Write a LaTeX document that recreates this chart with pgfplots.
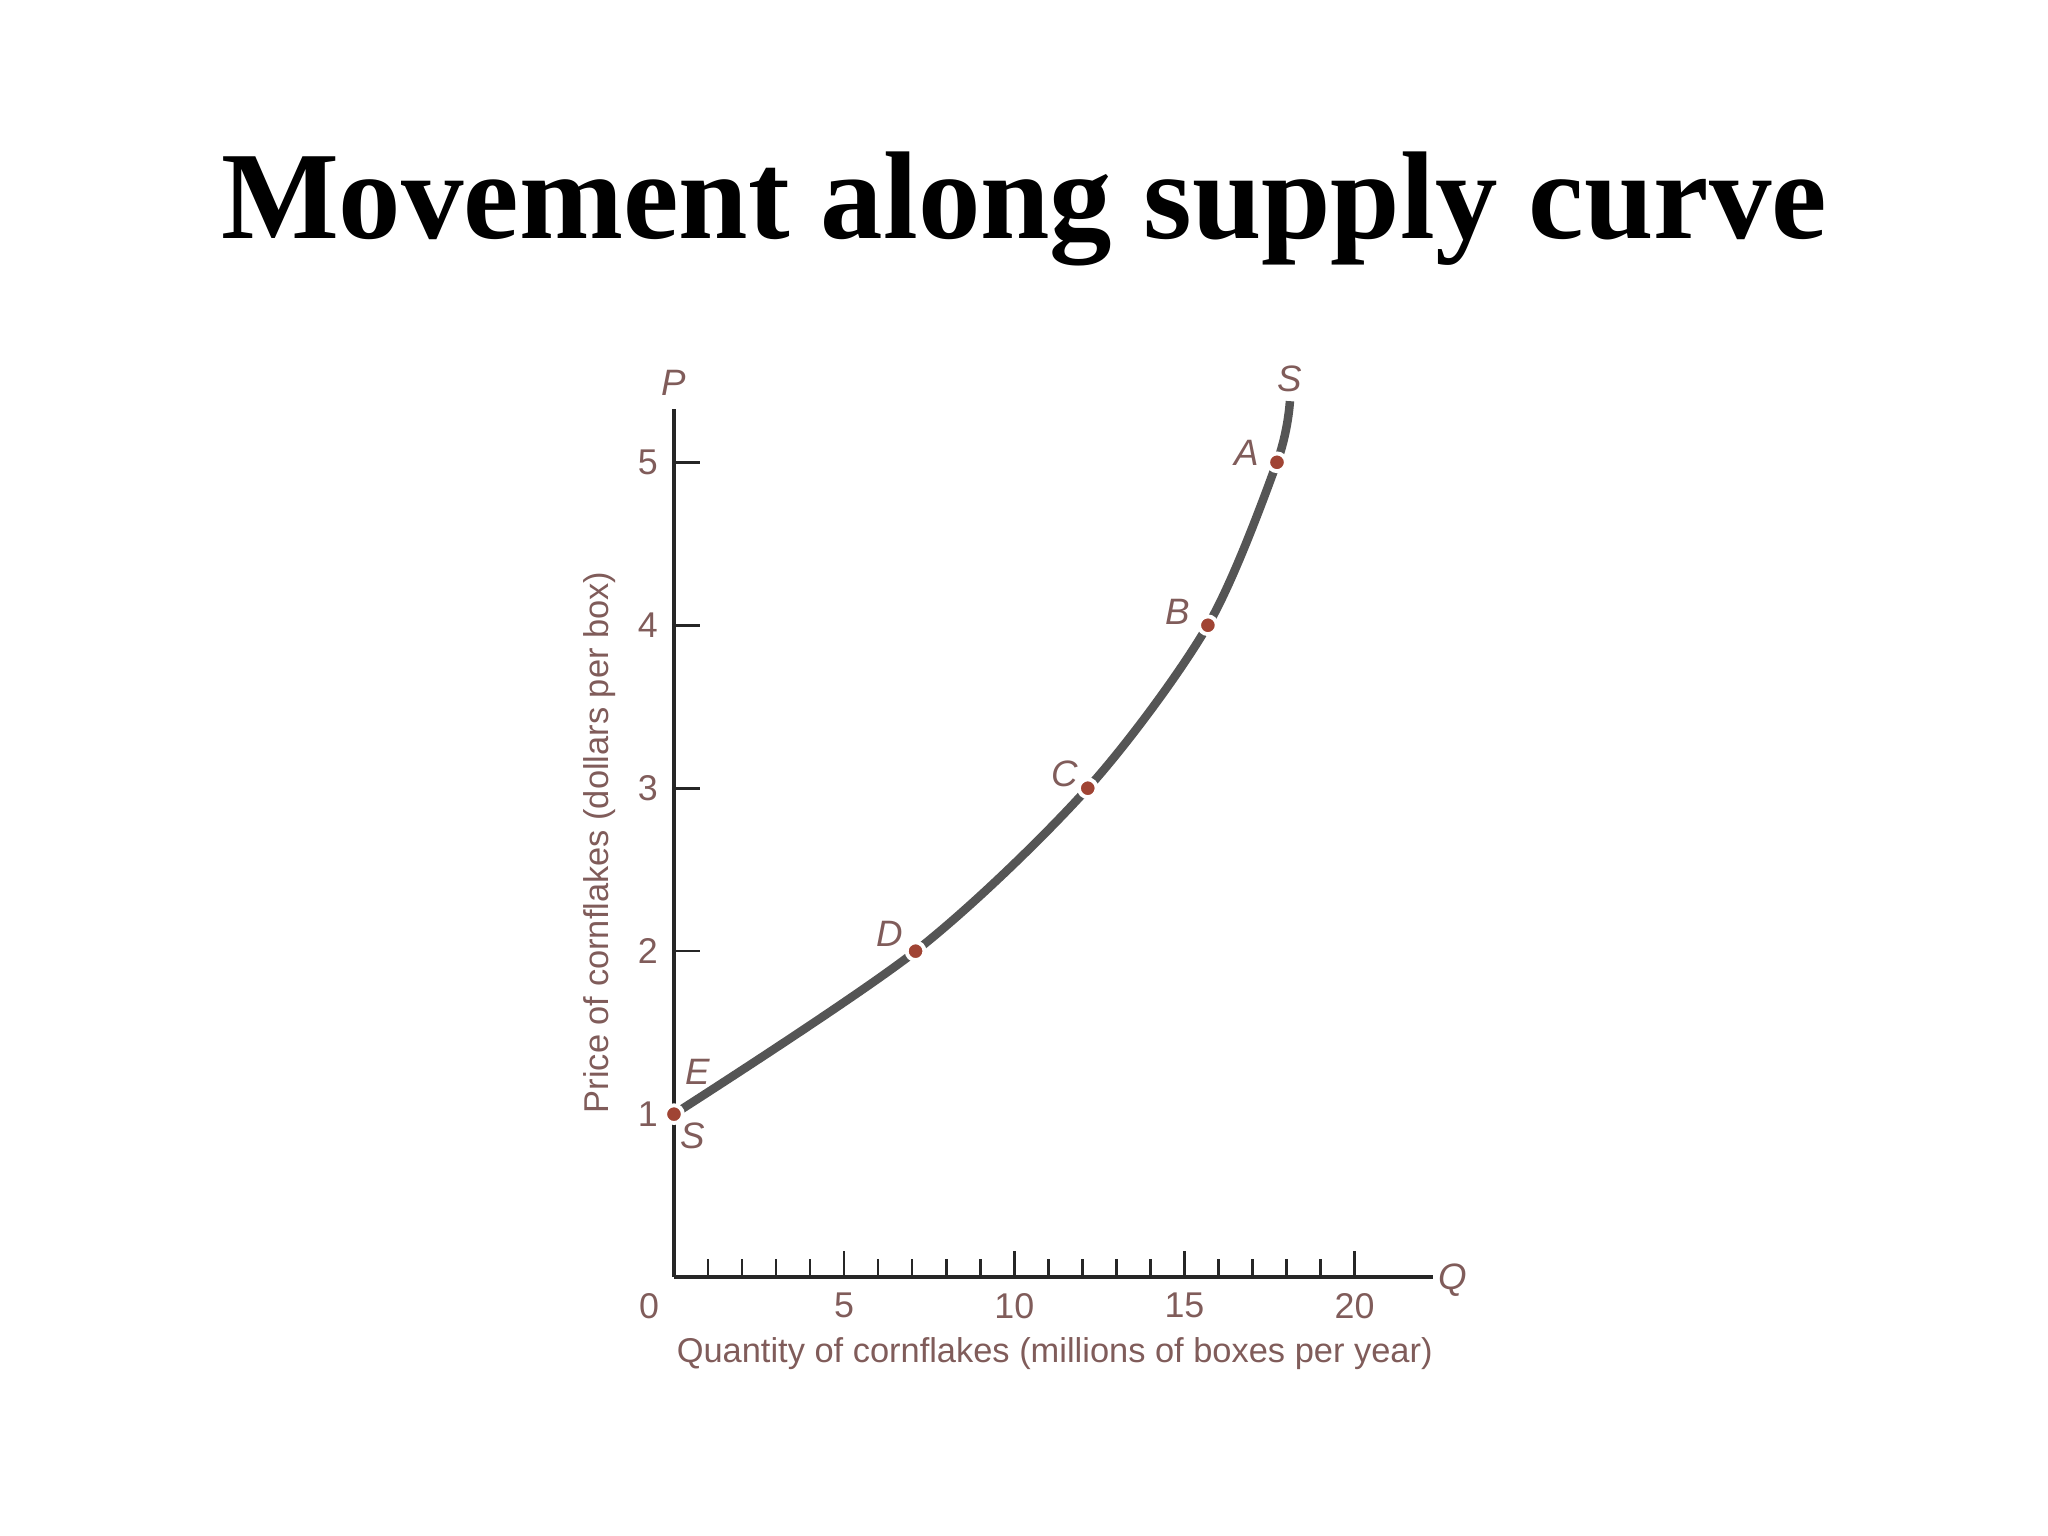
\documentclass[border=0pt]{standalone}
\usepackage{pgfplots}
\pgfplotsset{compat=1.18}
\usepackage{fontspec}
\setmainfont{Liberation Serif}
\setsansfont{Liberation Sans}
\definecolor{labelc}{RGB}{128,92,90}
\definecolor{dotc}{RGB}{160,68,52}
\definecolor{curvec}{RGB}{85,85,85}
\begin{document}
\begin{tikzpicture}[x=1mm,y=1mm]
\path[use as bounding box] (0,0) rectangle (156.8,117.6);
\node[font=\fontsize{27.2}{30}\selectfont\bfseries, anchor=base, inner sep=0pt] at (78.4,99.3) {Movement along supply curve};
\begin{axis}[
  at={(51.6mm,19.82mm)}, anchor=south west,
  scale only axis, width=58.1mm, height=66.5mm,
  xmin=0, xmax=22.3, ymin=0, ymax=5.33,
  axis lines=left,
  axis line style={-, line width=0.25mm, draw=black!85},
  tick align=inside,
  xtick={5,10,15,20},
  minor xtick={1,2,3,4,6,7,8,9,11,12,13,14,16,17,18,19},
  ytick={2,3,4,5},
  major tick length=2mm, minor tick length=1.35mm,
  every tick/.style={line width=0.2mm, black!85},
  /pgf/number format/assume math mode=true,
  ticklabel style={font=\sffamily\fontsize{7.8}{9}\selectfont, text=labelc},
  extra x ticks={0},
  extra x tick style={major tick length=0pt, xticklabel style={xshift=-1.9mm}},
  extra y ticks={1},
  extra y tick style={major tick length=0pt},
  clip=false,
]
% supply curve S
\addplot[curvec, line width=0.65mm, smooth] coordinates {
  (0,1) (7.1,2) (12.16,3) (15.69,4) (17.72,5) (18.1,5.375)
};
% points A to E
\addplot[only marks, mark=*, mark size=0.68mm,
  mark options={fill=dotc, draw=white, line width=0.3mm}] coordinates {
  (0,1) (7.1,2) (12.16,3) (15.69,4) (17.72,5)
};
\begin{scope}[every node/.style={font=\sffamily\itshape\fontsize{8}{9}\selectfont, text=labelc, inner sep=0pt}]
\node at (axis cs:0,5.49) {P};
\node at (axis cs:22.9,-0.02) {Q};
\node at (axis cs:18.1,5.511) {S};
\node at (axis cs:0.54,0.866) {S};
\node at (axis cs:16.84,5.055) {A};
\node at (axis cs:14.8,4.085) {B};
\node at (axis cs:11.47,3.09) {C};
\node at (axis cs:6.33,2.105) {D};
\node at (axis cs:0.69,1.257) {E};
\end{scope}
\end{axis}
\node[font=\sffamily\fontsize{7.5}{9}\selectfont, text=labelc] at (80.75,14.0) {Quantity of cornflakes (millions of boxes per year)};
\node[font=\sffamily\fontsize{7.5}{9}\selectfont, text=labelc, rotate=90] at (45.9,53.1) {Price of cornflakes (dollars per box)};
\end{tikzpicture}
\end{document}
